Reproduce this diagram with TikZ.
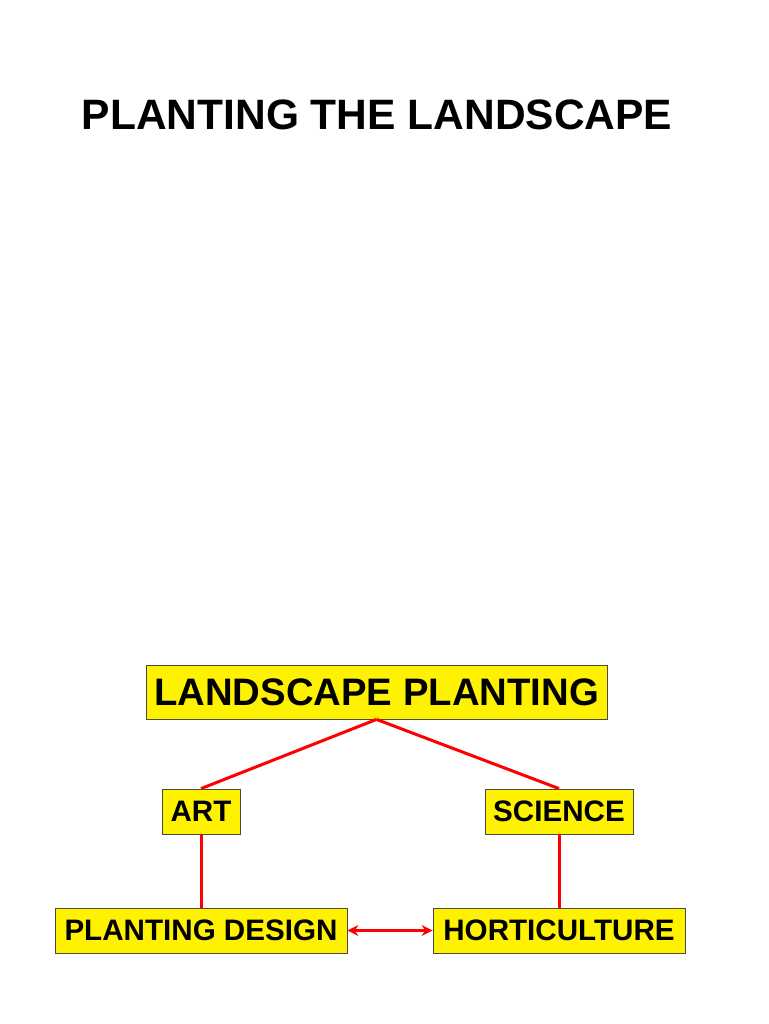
\documentclass[tikz,border=0pt]{standalone}
\usepackage{fontspec}
\setmainfont{Liberation Sans}
\usetikzlibrary{arrows.meta}
\begin{document}
\begin{tikzpicture}[x=1pt,y=-1pt,
  box/.style={draw=black!80!yellow, line width=0.8pt, fill=yellow, inner sep=0pt, font=\bfseries\fontsize{29.6}{31}\selectfont},
  link/.style={draw=red, line width=3pt},
  dlink/.style={draw=red, line width=2.6pt, {Stealth[length=11pt,width=11pt]}-{Stealth[length=11pt,width=11pt]}}]
\useasboundingbox[fill=white] (0,0) rectangle (768,1024);
\node[font=\bfseries\fontsize{42.5}{46}\selectfont, anchor=center] (title) at (377,115) {PLANTING THE LANDSCAPE};
\node[box, minimum width=461pt, minimum height=54pt, font=\bfseries\fontsize{38.3}{40}\selectfont] (lp) at (376.5,692) {LANDSCAPE PLANTING};
\node[box, minimum width=78pt, minimum height=45pt] (art) at (201,811.5) {ART};
\node[box, minimum width=148pt, minimum height=45pt] (sci) at (559,811.5) {SCIENCE};
\node[box, minimum width=292pt, minimum height=45pt] (pd) at (201,930.5) {PLANTING DESIGN};
\node[box, minimum width=252pt, minimum height=45pt] (hort) at (559,930.5) {HORTICULTURE};
\draw[link] (lp.south) -- (art.north);
\draw[link] (lp.south) -- (sci.north);
\draw[link] (art.south) -- (pd.north);
\draw[link] (sci.south) -- (hort.north);
\draw[dlink] (pd.east) -- (hort.west);
\end{tikzpicture}
\end{document}
